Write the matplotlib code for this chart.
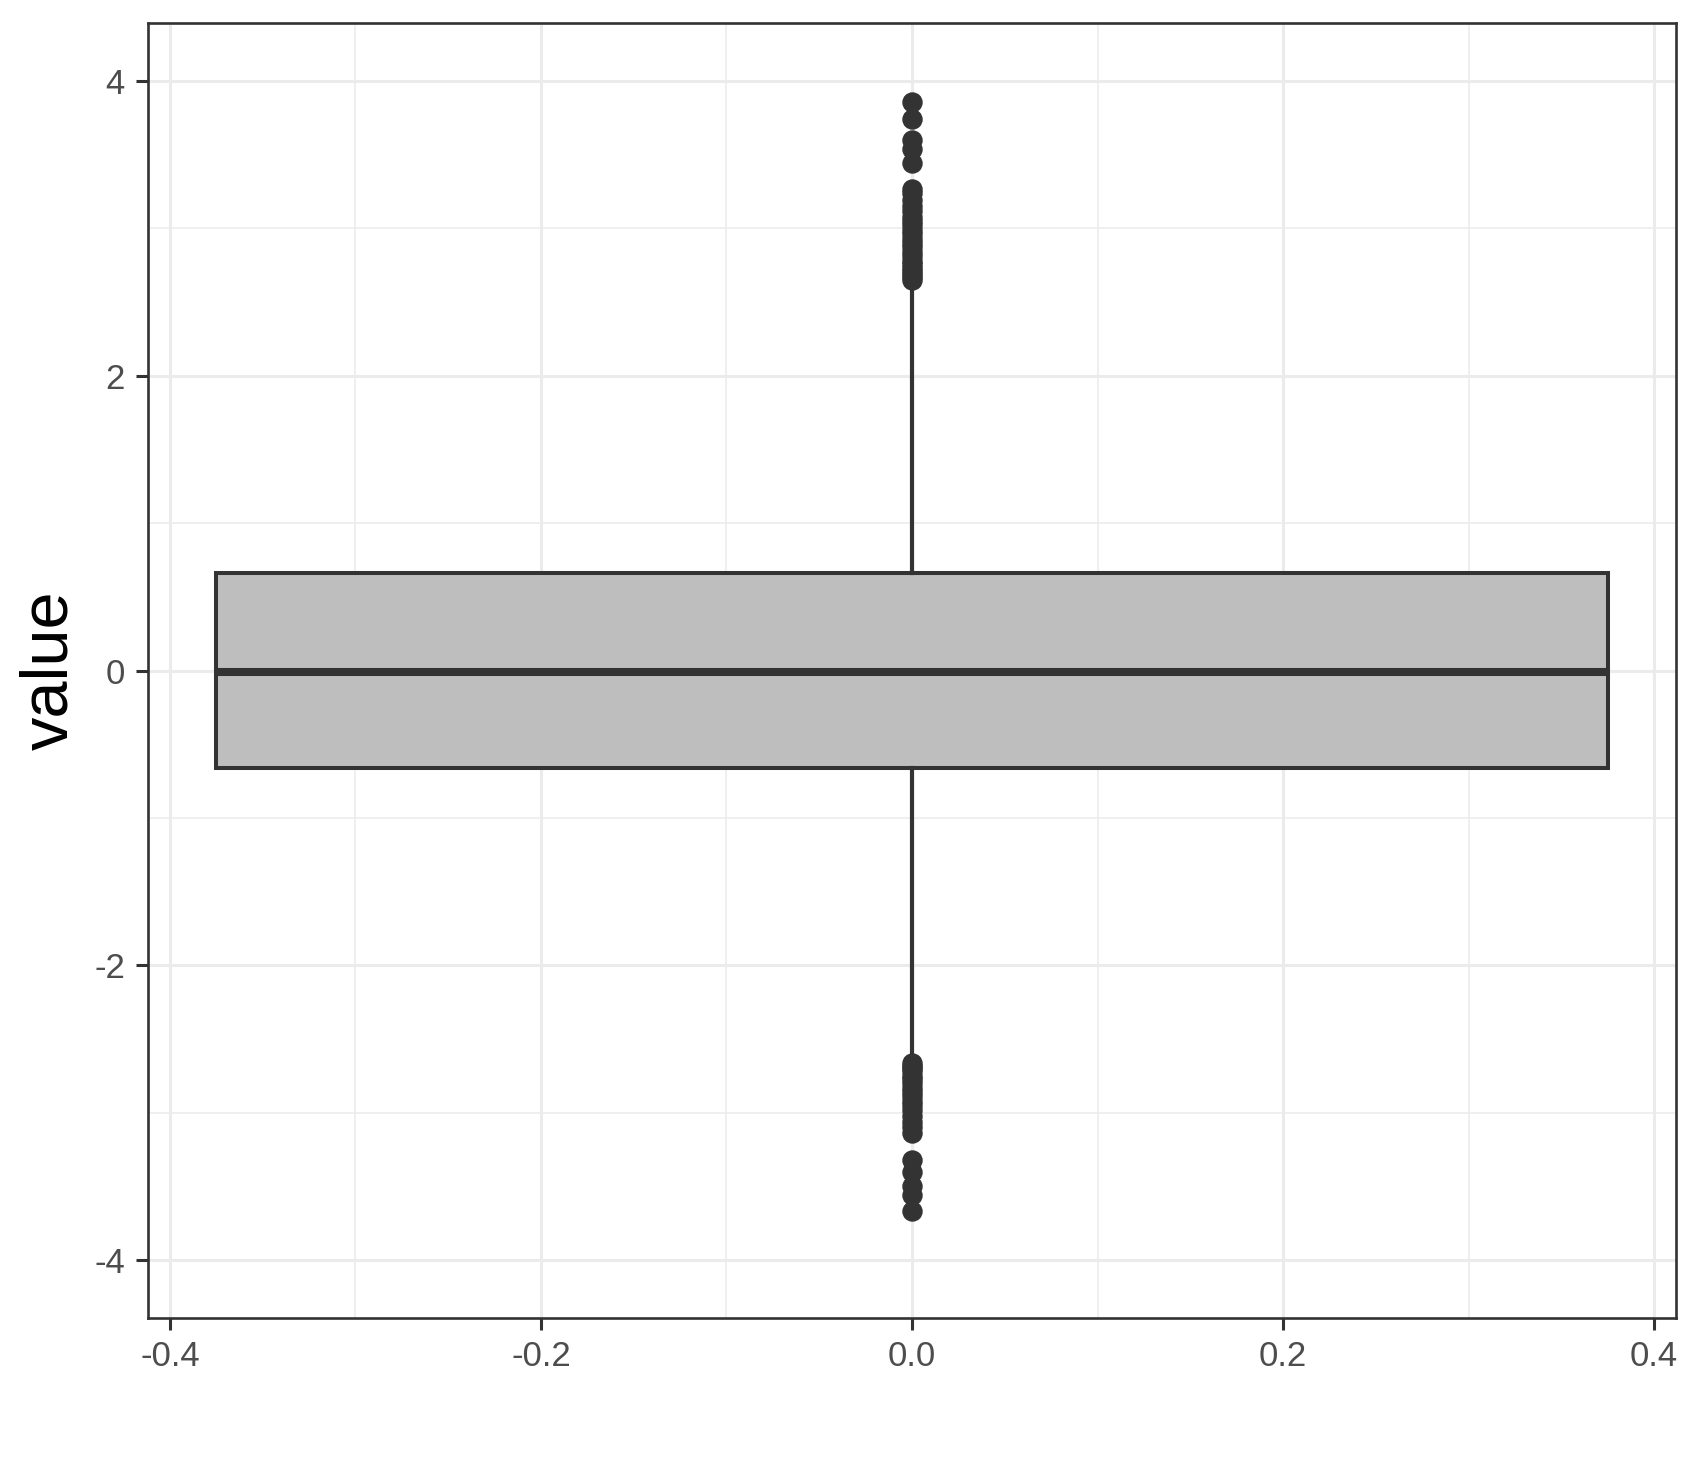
import matplotlib
matplotlib.use("Agg")
import matplotlib.pyplot as plt
from matplotlib.ticker import MultipleLocator

plt.rcParams['font.family'] = ['Liberation Sans', 'DejaVu Sans']

# ---- data ----
q1 = -0.66
median = -0.007
q3 = 0.662
whisker_low = -2.65
whisker_high = 2.64
outliers_high = [3.86, 3.74, 3.60, 3.54, 3.44, 3.27, 3.24, 3.19, 3.15, 3.12, 3.08,
                 3.05, 3.02, 2.99, 2.96, 2.93, 2.90, 2.87, 2.84, 2.81, 2.78, 2.76,
                 2.73, 2.71, 2.69, 2.67, 2.65]
outliers_low = [-2.66, -2.68, -2.70, -2.72, -2.75, -2.77, -2.80, -2.83, -2.86,
                -2.89, -2.92, -2.95, -2.98, -3.02, -3.06, -3.10, -3.14, -3.32,
                -3.40, -3.50, -3.56, -3.67]
x_ticks = [-0.4, -0.2, 0.0, 0.2, 0.4]
x_ticklabels = ["-0.4", "-0.2", "0.0", "0.2", "0.4"]
y_ticks = [-4, -2, 0, 2, 4]
y_ticklabels = ["-4", "-2", "0", "2", "4"]
y_label = "value"

stats = [dict(med=median, q1=q1, q3=q3, whislo=whisker_low, whishi=whisker_high,
              fliers=outliers_high + outliers_low)]

DARK = "#333333"
fig = plt.figure(figsize=(17, 14.7), dpi=100)
ax = fig.add_axes([148/1700, 1 - 1318/1470, (1676 - 148)/1700, (1318 - 23)/1470])

ax.bxp(stats, positions=[0], widths=0.75, patch_artist=True, showcaps=False,
       boxprops=dict(facecolor="#BEBEBE", edgecolor=DARK, linewidth=2.9),
       medianprops=dict(color=DARK, linewidth=5.8, solid_capstyle='butt'),
       whiskerprops=dict(color=DARK, linewidth=3.0),
       flierprops=dict(marker='o', markersize=13.7, markerfacecolor=DARK,
                       markeredgecolor=DARK, linestyle='none'),
       zorder=3)

ax.set_xlim(-0.4118, 0.4118)
ax.set_ylim(-4.393, 4.393)
ax.set_xticks(x_ticks)
ax.set_xticklabels(x_ticklabels)
ax.set_yticks(y_ticks)
ax.set_yticklabels(y_ticklabels)
ax.xaxis.set_minor_locator(MultipleLocator(0.1))
ax.yaxis.set_minor_locator(MultipleLocator(1))

ax.set_axisbelow(True)
ax.grid(which='major', color="#EBEBEB", linewidth=2.2)
ax.grid(which='minor', color="#EBEBEB", linewidth=1.1)
ax.tick_params(which='minor', length=0)
ax.tick_params(which='major', length=8.6, width=2.2, color=DARK,
               labelsize=25, labelcolor="#4D4D4D")
ax.tick_params(axis='y', which='major', pad=8)
ax.tick_params(axis='x', which='major', pad=7)

for sp in ax.spines.values():
    sp.set_color(DARK)
    sp.set_linewidth(1.9)
    sp.set_zorder(5)

ax.set_ylabel(y_label, fontsize=48, color="black")
ax.yaxis.set_label_coords(-0.044, 0.5)

fig.savefig("out.png", dpi=100, facecolor="white")
